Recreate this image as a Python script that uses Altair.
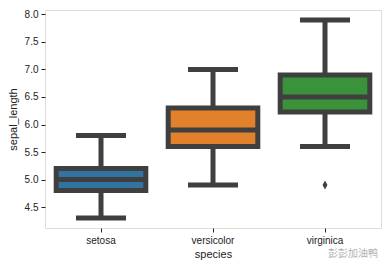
import altair as alt
import pandas as pd

species = ["setosa", "versicolor", "virginica"]
q1 = [4.8, 5.6, 6.225]
median = [5.0, 5.9, 6.5]
q3 = [5.2, 6.3, 6.9]
lower = [4.3, 4.9, 5.6]
upper = [5.8, 7.0, 7.9]
colors = ["#3274a1", "#e1812c", "#3a923a"]
outlier_species = ["virginica"]
outlier_values = [4.9]
y_ticks = [4.5, 5.0, 5.5, 6.0, 6.5, 7.0, 7.5, 8.0]
watermark = "彭彭加油鸭"

box = pd.DataFrame({"species": species, "q1": q1, "median": median, "q3": q3,
                    "lower": lower, "upper": upper})
out = pd.DataFrame({"species": outlier_species, "value": outlier_values})

LINE = "#3f3f3f"
LW = 5

xscale = alt.Scale(paddingInner=0, paddingOuter=0)
xaxis = alt.Axis(labelAngle=0, tickSize=4, labelPadding=3, titlePadding=3,
                 domain=False, tickColor="#222", labelColor="#222",
                 titleColor="#222", titleFontWeight="normal")
yscale = alt.Scale(domain=[4.12, 8.08], nice=False, zero=False)
yaxis = alt.Axis(values=y_ticks, format=".1f", tickSize=4, labelPadding=3, titlePadding=6,
                 labelOverlap=False, labelFlush=False, tickCount=8,
                 grid=False, domain=False, tickColor="#222", labelColor="#222",
                 titleColor="#222", titleFontWeight="normal")


def X():
    return alt.X("species:N", sort=species, title="species", scale=xscale, axis=xaxis)


def Y(field):
    return alt.Y(field, scale=yscale, axis=yaxis, title="sepal_length")


base = alt.Chart(box)

whisk_lo = base.mark_rule(color=LINE, strokeWidth=LW).encode(
    x=X(), y=Y("lower:Q"), y2="q1:Q")
whisk_hi = base.mark_rule(color=LINE, strokeWidth=LW).encode(
    x=X(), y=Y("q3:Q"), y2="upper:Q")
caps_lo = base.mark_tick(color=LINE, size=50, thickness=LW, opacity=1).encode(
    x=X(), y=Y("lower:Q"))
caps_hi = base.mark_tick(color=LINE, size=50, thickness=LW, opacity=1).encode(
    x=X(), y=Y("upper:Q"))
boxes = base.mark_bar(width={"band": 0.8}, stroke=LINE, strokeWidth=LW, opacity=1,
                      strokeJoin="miter").encode(
    x=X(), y=Y("q1:Q"), y2="q3:Q",
    color=alt.Color("species:N", scale=alt.Scale(domain=species, range=colors), legend=None))
med = base.mark_tick(color=LINE, size=89.6, thickness=LW, opacity=1).encode(
    x=X(), y=Y("median:Q"))
pts = alt.Chart(out).mark_point(shape="M0,-1L0.55,0L0,1L-0.55,0Z", filled=True,
                                color=LINE, size=80, opacity=1).encode(
    x=X(), y=Y("value:Q"))

chart = alt.layer(whisk_lo, whisk_hi, caps_lo, caps_hi, boxes, med, pts).properties(
    width=336, height=218,
    autosize=alt.AutoSizeParams(type="none"),
    padding={"left": 45, "top": 10, "right": 9, "bottom": 38},
    title=alt.TitleParams(watermark, orient="bottom", anchor="end", fontSize=10,
                          font="Noto Sans CJK SC", fontWeight="normal",
                          color="#b0b0b0", offset=-10, dx=-3),
).configure_view(stroke="#222", strokeWidth=1).configure_axis(
    labelFont="DejaVu Sans", titleFont="DejaVu Sans", labelFontSize=10, titleFontSize=10
).configure(background="white")

chart.save("out.html", embed_options={"renderer": "svg", "actions": False})
